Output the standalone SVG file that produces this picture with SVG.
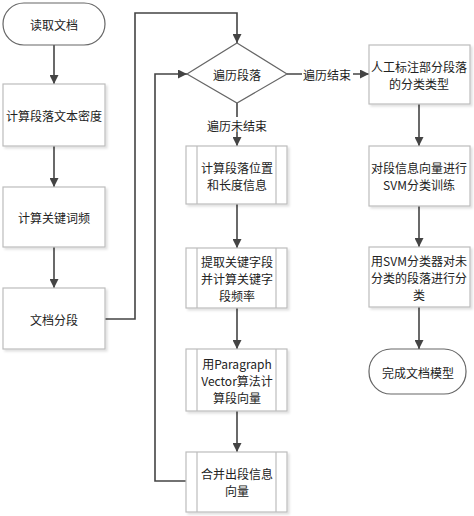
<svg xmlns="http://www.w3.org/2000/svg" width="474" height="516" viewBox="0 0 474 516">
<style>
.t{font-family:"Microsoft YaHei","Noto Sans CJK SC","Noto Sans",sans-serif;font-size:12px;fill:#222;text-anchor:middle;dominant-baseline:central}
.box{fill:#fff;stroke:#bdbdbd;stroke-width:1.2}
.term{fill:#fff;stroke:#666;stroke-width:1.2}
.in{stroke:#bdbdbd;stroke-width:1.2}
.c{fill:none;stroke:#444;stroke-width:1.6}
.lb{fill:#fff}
</style>
<defs>
<marker id="ah" viewBox="0 0 10 10" refX="10" refY="5" markerWidth="9" markerHeight="9" orient="auto" markerUnits="userSpaceOnUse">
<path d="M0,0 L10,5 L0,10 z" fill="#444"/>
</marker>
<filter id="sh" x="-10%" y="-10%" width="130%" height="130%">
<feDropShadow dx="2" dy="2" stdDeviation="1.2" flood-color="#000" flood-opacity="0.12"/>
</filter>
</defs>
<g id="connectors">
<line class="c" x1="54" y1="45" x2="54" y2="84" marker-end="url(#ah)"/>
<line class="c" x1="54" y1="146" x2="54" y2="187" marker-end="url(#ah)"/>
<line class="c" x1="54" y1="247" x2="54" y2="288" marker-end="url(#ah)"/>
<polyline class="c" points="105,319 135,319 135,13 237,13 237,43" marker-end="url(#ah)"/>
<line class="c" x1="237" y1="103" x2="237" y2="146" marker-end="url(#ah)"/>
<rect class="lb" x="205" y="117" width="64" height="15"/>
<text class="t" x="237" y="125">遍历未结束</text>
<line class="c" x1="287" y1="74" x2="369" y2="74" marker-end="url(#ah)"/>
<rect class="lb" x="302" y="66" width="51" height="16"/>
<text class="t" x="327" y="74">遍历结束</text>
<line class="c" x1="237" y1="204" x2="237" y2="248" marker-end="url(#ah)"/>
<line class="c" x1="237" y1="308" x2="237" y2="349" marker-end="url(#ah)"/>
<line class="c" x1="237" y1="411" x2="237" y2="452" marker-end="url(#ah)"/>
<polyline class="c" points="186,481 155,481 155,74 187,74" marker-end="url(#ah)"/>
<line class="c" x1="419" y1="104" x2="419" y2="146" marker-end="url(#ah)"/>
<line class="c" x1="419" y1="206" x2="419" y2="247" marker-end="url(#ah)"/>
<line class="c" x1="419" y1="307" x2="419" y2="349" marker-end="url(#ah)"/>
</g>
<g id="start">
<rect class="term" x="3" y="3" width="102" height="42" rx="21" ry="21"/>
<text class="t" x="54" y="24">读取文档</text>
</g>
<g id="density">
<rect class="box" x="3" y="84" width="102" height="62" filter="url(#sh)"/>
<text class="t" x="54" y="115">计算段落文本密度</text>
</g>
<g id="keyword-freq">
<rect class="box" x="3" y="187" width="102" height="60" filter="url(#sh)"/>
<text class="t" x="54" y="217">计算关键词频</text>
</g>
<g id="segment">
<rect class="box" x="3" y="288" width="102" height="61" filter="url(#sh)"/>
<text class="t" x="54" y="319">文档分段</text>
</g>
<g id="loop">
<polygon points="237,43 287,74 237,103 187,74" fill="#fff" stroke="#666" stroke-width="1.2"/>
<text class="t" x="237" y="74">遍历段落</text>
</g>
<g id="position">
<rect class="box" x="186" y="146" width="101" height="58" filter="url(#sh)"/>
<line class="in" x1="197" y1="146" x2="197" y2="204"/>
<line class="in" x1="276" y1="146" x2="276" y2="204"/>
<text class="t" x="237" y="167">计算段落位置</text>
<text class="t" x="237" y="184">和长度信息</text>
</g>
<g id="extract">
<rect class="box" x="186" y="248" width="101" height="60" filter="url(#sh)"/>
<line class="in" x1="197" y1="248" x2="197" y2="308"/>
<line class="in" x1="276" y1="248" x2="276" y2="308"/>
<text class="t" x="237" y="261">提取关键字段</text>
<text class="t" x="237" y="278">并计算关键字</text>
<text class="t" x="237" y="295">段频率</text>
</g>
<g id="pv">
<rect class="box" x="186" y="349" width="101" height="62" filter="url(#sh)"/>
<line class="in" x1="197" y1="349" x2="197" y2="411"/>
<line class="in" x1="276" y1="349" x2="276" y2="411"/>
<text class="t" x="237" y="363">用Paragraph</text>
<text class="t" x="237" y="380">Vector算法计</text>
<text class="t" x="237" y="397">算段向量</text>
</g>
<g id="merge">
<rect class="box" x="186" y="452" width="101" height="60" filter="url(#sh)"/>
<line class="in" x1="197" y1="452" x2="197" y2="512"/>
<line class="in" x1="276" y1="452" x2="276" y2="512"/>
<text class="t" x="237" y="473">合并出段信息</text>
<text class="t" x="237" y="490">向量</text>
</g>
<g id="label">
<rect class="box" x="369" y="45" width="101" height="59" filter="url(#sh)"/>
<text class="t" x="419" y="66">人工标注部分段落</text>
<text class="t" x="419" y="83">的分类类型</text>
</g>
<g id="train">
<rect class="box" x="369" y="146" width="101" height="60" filter="url(#sh)"/>
<text class="t" x="419" y="167">对段信息向量进行</text>
<text class="t" x="419" y="184">SVM分类训练</text>
</g>
<g id="classify">
<rect class="box" x="369" y="247" width="101" height="60" filter="url(#sh)"/>
<text class="t" x="419" y="260">用SVM分类器对未</text>
<text class="t" x="419" y="277">分类的段落进行分</text>
<text class="t" x="419" y="294">类</text>
</g>
<g id="end">
<rect class="term" x="369" y="349" width="97" height="45" rx="22" ry="22"/>
<text class="t" x="418" y="372">完成文档模型</text>
</g>
</svg>
